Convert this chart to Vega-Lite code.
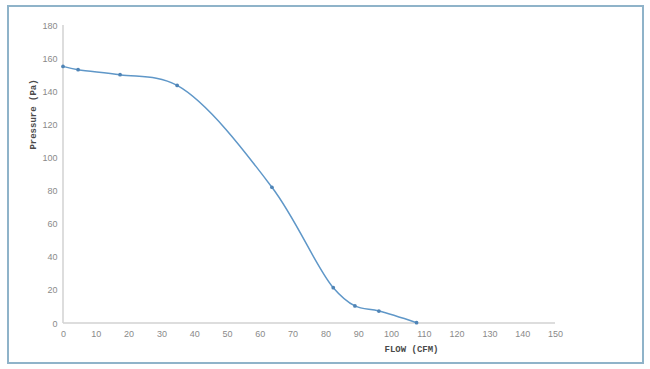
{
  "$schema": "https://vega.github.io/schema/vega-lite/v6.json",
  "width": 635,
  "height": 357,
  "autosize": {"type": "none"},
  "padding": {"left": 8, "top": 6, "right": 7, "bottom": 6},
  "background": "white",
  "config": {
    "view": {"stroke": "#8fb3c9", "strokeWidth": 2},
    "axis": {"grid": false, "domain": false, "ticks": false, "labelOverlap": false, "labelFont": "Liberation Sans", "labelFontSize": 9, "labelColor": "#8a8a8a"}
  },
  "datasets": {
    "curve": [
      {"flow": 0, "pressure": 155},
      {"flow": 4.6, "pressure": 153},
      {"flow": 17.4, "pressure": 150},
      {"flow": 34.8, "pressure": 143.5},
      {"flow": 63.7, "pressure": 82},
      {"flow": 82.4, "pressure": 21.3},
      {"flow": 89, "pressure": 10.3},
      {"flow": 96.3, "pressure": 7.2},
      {"flow": 107.8, "pressure": 0.2}
    ],
    "axes": [
      {"flow": 0, "flow2": 150, "pressure": 0, "pressure2": 0},
      {"flow": 0, "flow2": 0, "pressure": 0, "pressure2": 180}
    ]
  },
  "encoding": {
    "x": {"field": "flow", "type": "quantitative",
      "scale": {"domain": [-16.77, 176.83], "nice": false, "zero": false},
      "axis": {"orient": "bottom", "offset": -40, "values": [0,10,20,30,40,50,60,70,80,90,100,110,120,130,140,150], "labelPadding": 6, "labelOverlap": false,
        "title": "FLOW (CFM)", "titleFont": "Liberation Mono", "titleFontSize": 9, "titleFontWeight": "bold", "titleColor": "#4a4a4a",
        "titleX": 403, "titleY": 25, "titleBaseline": "middle", "titleAnchor": "middle", "titleAlign": "center"}},
    "y": {"field": "pressure", "type": "quantitative",
      "scale": {"domain": [-24.16, 191.48], "nice": false, "zero": false},
      "axis": {"orient": "left", "offset": -55, "values": [0,20,40,60,80,100,120,140,160,180], "labelPadding": 6, "labelOverlap": false, "labelFlush": false,
        "title": "Pressure (Pa)", "titleFont": "Liberation Mono", "titleFontSize": 9, "titleFontWeight": "bold", "titleColor": "#4a4a4a",
        "titleX": -31, "titleY": 108, "titleAngle": -90, "titleBaseline": "middle", "titleAnchor": "middle", "titleAlign": "center"}}
  },
  "layer": [
    {
      "data": {"name": "axes"},
      "mark": {"type": "rule", "color": "#d2d2d2", "strokeWidth": 1.5},
      "encoding": {
        "x2": {"field": "flow2"},
        "y2": {"field": "pressure2"}
      }
    },
    {
      "data": {"name": "curve"},
      "mark": {"type": "line", "interpolate": "catmull-rom", "color": "#5f97c8", "strokeWidth": 1.5},
      "encoding": {}
    },
    {
      "data": {"name": "curve"},
      "mark": {"type": "point", "filled": true, "color": "#4f84b6", "size": 14, "opacity": 1},
      "encoding": {}
    }
  ]
}
